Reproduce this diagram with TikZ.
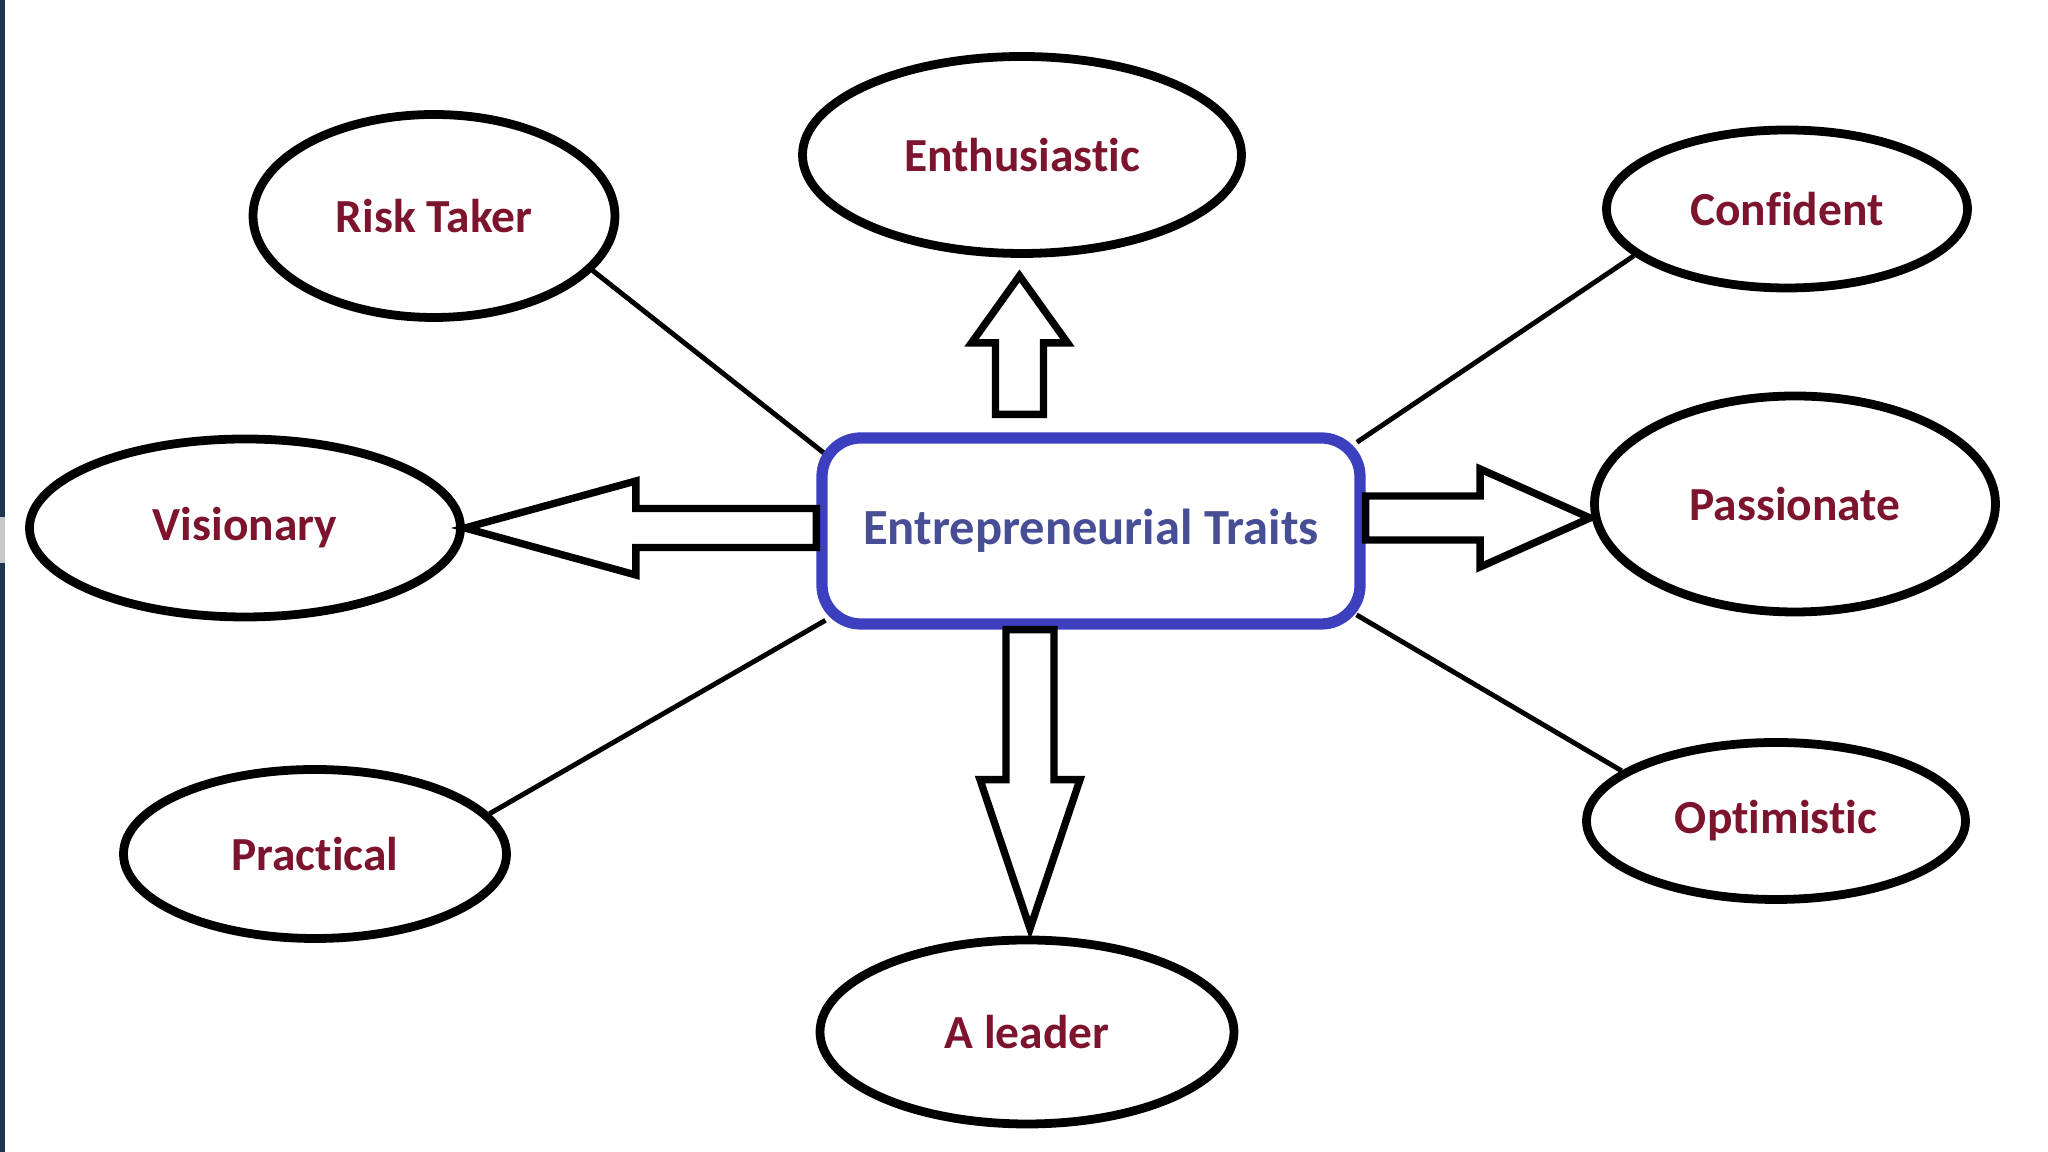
\documentclass[tikz,border=0pt]{standalone}
\usepackage{fontspec}
\setmainfont{Carlito}[Ligatures=NoCommon]
\usetikzlibrary{shapes.geometric,calc,backgrounds}
\definecolor{cMaroon}{RGB}{125,20,45}
\definecolor{cSlate}{RGB}{72,78,150}
\definecolor{cBox}{RGB}{60,64,190}
\definecolor{cStrip}{RGB}{31,52,80}
\definecolor{cGrayBit}{RGB}{200,200,200}
\tikzset{
  traitnode/.style={ellipse,draw=black,line width=2.5pt,inner sep=0pt,
                    font=\fontsize{13.5}{16}\selectfont\bfseries,text=cMaroon},
  corenode/.style={rectangle,rounded corners=11pt,draw=cBox,line width=3.2pt,
                   fill=white,font=\fontsize{14.4}{17}\selectfont\bfseries,
                   text=cSlate},
  link/.style={line width=1.4pt,color=black,shorten >=-3pt},
  blockarr/.style={line width=2.1pt,draw=black,fill=white,line join=miter}
}
% hollow block arrow: from, to, shaft half width, head half width, head length
\newcommand{\blockarrow}[5]{%
  \coordinate (hb) at ($(#2)!#5cm!(#1)$);
  \draw[blockarr] ($(#1)!#3cm!90:(#2)$) -- ($(hb)!#3cm!-90:(#1)$)
    -- ($(hb)!#4cm!-90:(#1)$) -- (#2) -- ($(hb)!#4cm!90:(#1)$)
    -- ($(hb)!#3cm!90:(#1)$) -- ($(#1)!#3cm!-90:(#2)$) -- cycle;}
\begin{document}
\begin{tikzpicture}
  \useasboundingbox (0,0) rectangle (20.48,11.52);
  \fill[cStrip] (0,0) rectangle (0.05,11.52);
  \fill[cGrayBit] (0,5.89) rectangle (0.05,6.35);

  % centre and traits
  \node[corenode,minimum width=5.38cm,minimum height=1.86cm] (ctr) at (10.91,6.21) {Entrepreneurial Traits};
  \node[traitnode,minimum width=3.62cm,minimum height=2.03cm] (rt) at (4.34,9.36) {Risk Taker};
  \node[traitnode,minimum width=4.39cm,minimum height=1.97cm] (ent) at (10.22,9.97) {Enthusiastic};
  \node[traitnode,minimum width=3.61cm,minimum height=1.58cm] (con) at (17.87,9.43) {Confident};
  \node[traitnode,minimum width=4.31cm,minimum height=1.78cm] (vis) at (2.45,6.24) {Visionary};
  \node[traitnode,minimum width=4.01cm,minimum height=2.16cm] (pas) at (17.95,6.48) {Passionate};
  \node[traitnode,minimum width=3.83cm,minimum height=1.69cm] (pra) at (3.15,2.98) {Practical};
  \node[traitnode,minimum width=3.79cm,minimum height=1.57cm] (opt) at (17.76,3.31) {Optimistic};
  \node[traitnode,minimum width=4.14cm,minimum height=1.84cm] (lead) at (10.27,1.20) {A leader};

  % plain links
  \begin{scope}[on background layer]
    \draw[link] (rt.341) -- (ctr.163);
    \draw[link] (con.197) -- (ctr.19);
    \draw[link] (pra.13.5) -- (ctr.199);
    \draw[link] (opt.162) -- (ctr.342);
  \end{scope}

  % block arrows
  \coordinate (lS) at (ctr.west |- vis.east);
  \blockarrow{lS}{vis.east}{0.195}{0.47}{1.71}
  \coordinate (rS) at ($(ctr.east)+(0,0.13)$);
  \coordinate (rT) at (rS -| pas.west);
  \blockarrow{rS}{rT}{0.22}{0.49}{1.10}
  \coordinate (uS) at ($(ctr.north)+(-0.715,0.18)$);
  \coordinate (uT) at ($(uS |- ent.south)+(0,-0.18)$);
  \blockarrow{uS}{uT}{0.24}{0.48}{0.67}
  \coordinate (dS) at ($(ctr.south)+(-0.61,0)$);
  \coordinate (dT) at ($(dS |- lead.north)+(0,0.07)$);
  \blockarrow{dS}{dT}{0.24}{0.50}{1.49}
\end{tikzpicture}
\end{document}
